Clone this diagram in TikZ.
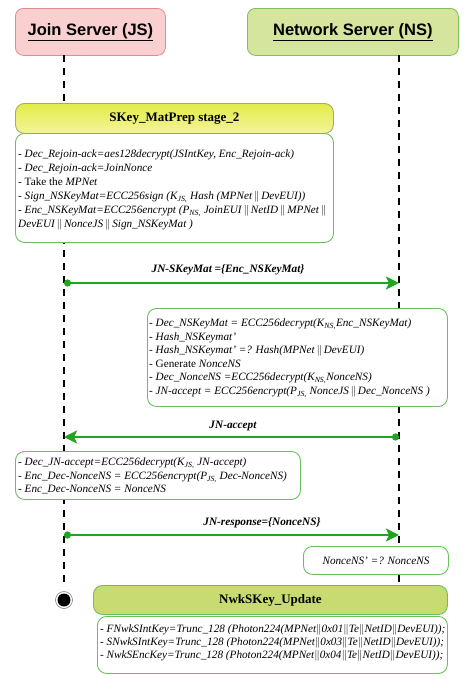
\documentclass[tikz,border=0pt]{standalone}
\usepackage{fontspec}
\setmainfont{Liberation Serif}
\newfontfamily\hdrfont{Liberation Sans}
\usetikzlibrary{arrows.meta}
\definecolor{jsfill}{HTML}{F9CFCF}
\definecolor{jsdraw}{HTML}{E58A8A}
\definecolor{nsfill}{HTML}{D6E59E}
\definecolor{nsdraw}{HTML}{7DBF5A}
\definecolor{boxgreen}{HTML}{6CBF5E}
\definecolor{arrgreen}{HTML}{1FA51F}
\definecolor{hdrtop}{HTML}{E2EC48}
\definecolor{hdrbot}{HTML}{F4F49A}
\definecolor{hdrdraw}{HTML}{A8A870}
\definecolor{updfill}{HTML}{C7DB70}
\tikzset{
  actor/.style={rounded corners=8pt, line width=0.8pt, minimum height=47pt, anchor=north west,
    font=\hdrfont\bfseries\fontsize{16.5}{18}\selectfont},
  lifeline/.style={line width=2.6pt, dash pattern=on 7pt off 6pt},
  procbox/.style={draw=boxgreen, fill=white, line width=0.9pt, rounded corners=9pt, anchor=north west},
  hdrbox/.style={rounded corners=9pt, line width=0.9pt, anchor=north west,
    font=\bfseries\fontsize{13}{15}\selectfont},
  txt/.style={anchor=north west, align=left, inner sep=0pt, font=\fontsize{11.2}{13.5}\selectfont},
  msg/.style={draw=arrgreen, line width=2.8pt, {Circle[length=7pt]}-{Stealth[length=13pt,width=13pt,inset=3pt]}},
  msglabel/.style={font=\bfseries\itshape\fontsize{11.3}{13}\selectfont}
}
\newcommand{\pp}{\ensuremath{\,\|\,}}
\newcommand{\pq}{\ensuremath{\|}}
\begin{document}
\begin{tikzpicture}[x=1pt,y=-1pt]
\useasboundingbox (0,0) rectangle (474,681);
% actors
\node[actor, draw=jsdraw, fill=jsfill, minimum width=150pt] (js) at (15,8) {\underline{Join Server (JS)}};
\node[actor, draw=nsdraw, fill=nsfill, minimum width=211pt] (ns) at (247,8) {\underline{Network Server (NS)}};
% lifeline coordinates
\coordinate (jsend) at (64,588);
\coordinate (nsend) at (399,585);
\coordinate (jstop) at (64,55);
\coordinate (nstop) at (399,55);
\draw[lifeline] (jstop) -- (jsend);
\draw[lifeline] (nstop) -- (nsend);
% end marker
\node[circle, draw=gray, line width=0.6pt, minimum size=17pt, inner sep=0pt] (endring) at (64,600) {};
\node[circle, fill=black, minimum size=13pt, inner sep=0pt] (enddot) at (endring.center) {};
% stage 2 header and body
\node[hdrbox, draw=hdrdraw, top color=hdrtop, bottom color=hdrbot, minimum width=318pt, minimum height=30pt] (h1) at (15,103) {SKey\_MatPrep stage\_2};
\node[procbox, minimum width=318pt, minimum height=109pt] (b1) at (15,133) {};
\node[txt, font=\fontsize{11.2}{13.9}\selectfont] (t1) at ([xshift=3pt,yshift=-17pt]b1.north west) {%
- \textit{Dec\_Rejoin-ack=aes128decrypt(JSIntKey, Enc\_Rejoin-ack)}\\
- \textit{Dec\_Rejoin-ack=JoinNonce}\\
- Take the \textit{MPNet}\\
- \textit{Sign\_NSKeyMat=ECC256sign (K\textsubscript{JS,} Hash (MPNet\pp DevEUI))}\\
- \textit{Enc\_NSKeyMat=ECC256encrypt (P\textsubscript{NS,} JoinEUI\pp NetID\pp MPNet\pp}\\
\textit{DevEUI\pp NonceJS\pp Sign\_NSKeyMat )}};
% message 1
\coordinate (m1s) at (64,283);
\coordinate (m1e) at (399,283);
\draw[msg] (m1s) -- (m1e);
\node[msglabel] (l1) at (228,270) {JN-SKeyMat =\{Enc\_NSKeyMat\}};
% NS box
\node[procbox, minimum width=300pt, minimum height=98pt] (b2) at (147,308) {};
\node[txt] (t2) at ([xshift=2pt,yshift=-11pt]b2.north west) {%
- \textit{Dec\_NSKeyMat = ECC256decrypt(K\textsubscript{NS,}Enc\_NSKeyMat)}\\
- \textit{Hash\_NSKeymat'}\\
- \textit{Hash\_NSKeymat' =? Hash(MPNet\pp DevEUI)}\\
- Generate \textit{NonceNS}\\
- \textit{Dec\_NonceNS =ECC256decrypt(K\textsubscript{NS,}NonceNS)}\\
- \textit{JN-accept = ECC256encrypt(P\textsubscript{JS,} NonceJS\pp Dec\_NonceNS )}};
% message 2
\coordinate (m2s) at (399,437);
\coordinate (m2e) at (64,437);
\draw[msg] (m2s) -- (m2e);
\node[msglabel] (l2) at (233,426) {JN-accept};
% JS box 2
\node[procbox, minimum width=285pt, minimum height=48pt] (b3) at (15,451) {};
\node[txt] (t3) at ([xshift=3pt,yshift=-7pt]b3.north west) {%
- \textit{Dec\_JN-accept=ECC256decrypt(K\textsubscript{JS,} JN-accept)}\\
- \textit{Enc\_Dec-NonceNS = ECC256encrypt(P\textsubscript{JS,} Dec-NonceNS)}\\
- \textit{Enc\_Dec-NonceNS = NonceNS}};
% message 3
\coordinate (m3s) at (64,535);
\coordinate (m3e) at (399,535);
\draw[msg] (m3s) -- (m3e);
\node[msglabel] (l3) at (262,523) {JN-response=\{NonceNS\}};
% NonceNS check
\node[procbox, minimum width=145pt, minimum height=28pt, font=\itshape\fontsize{11.2}{13}\selectfont] (b4) at (303,546) {NonceNS' =? NonceNS};
% NwkSKey update
\node[hdrbox, draw=boxgreen, fill=updfill, minimum width=354pt, minimum height=29pt] (h2) at (93,585) {NwkSKey\_Update};
\node[procbox, minimum width=350pt, minimum height=57pt] (b5) at (97,616) {};
\node[txt, font=\fontsize{11.2}{13.2}\selectfont] (t5) at ([xshift=3pt,yshift=-8pt]b5.north west) {%
- \textit{FNwkSIntKey=Trunc\_128 (Photon224(MPNet\pq 0x01\pq Te\pq NetID\pq DevEUI));}\\
- \textit{SNwkSIntKey=Trunc\_128 (Photon224(MPNet\pq 0x03\pq Te\pq NetID\pq DevEUI));}\\
- \textit{NwkSEncKey=Trunc\_128 (Photon224(MPNet\pq 0x04\pq Te\pq NetID\pq DevEUI));}};
\end{tikzpicture}
\end{document}
